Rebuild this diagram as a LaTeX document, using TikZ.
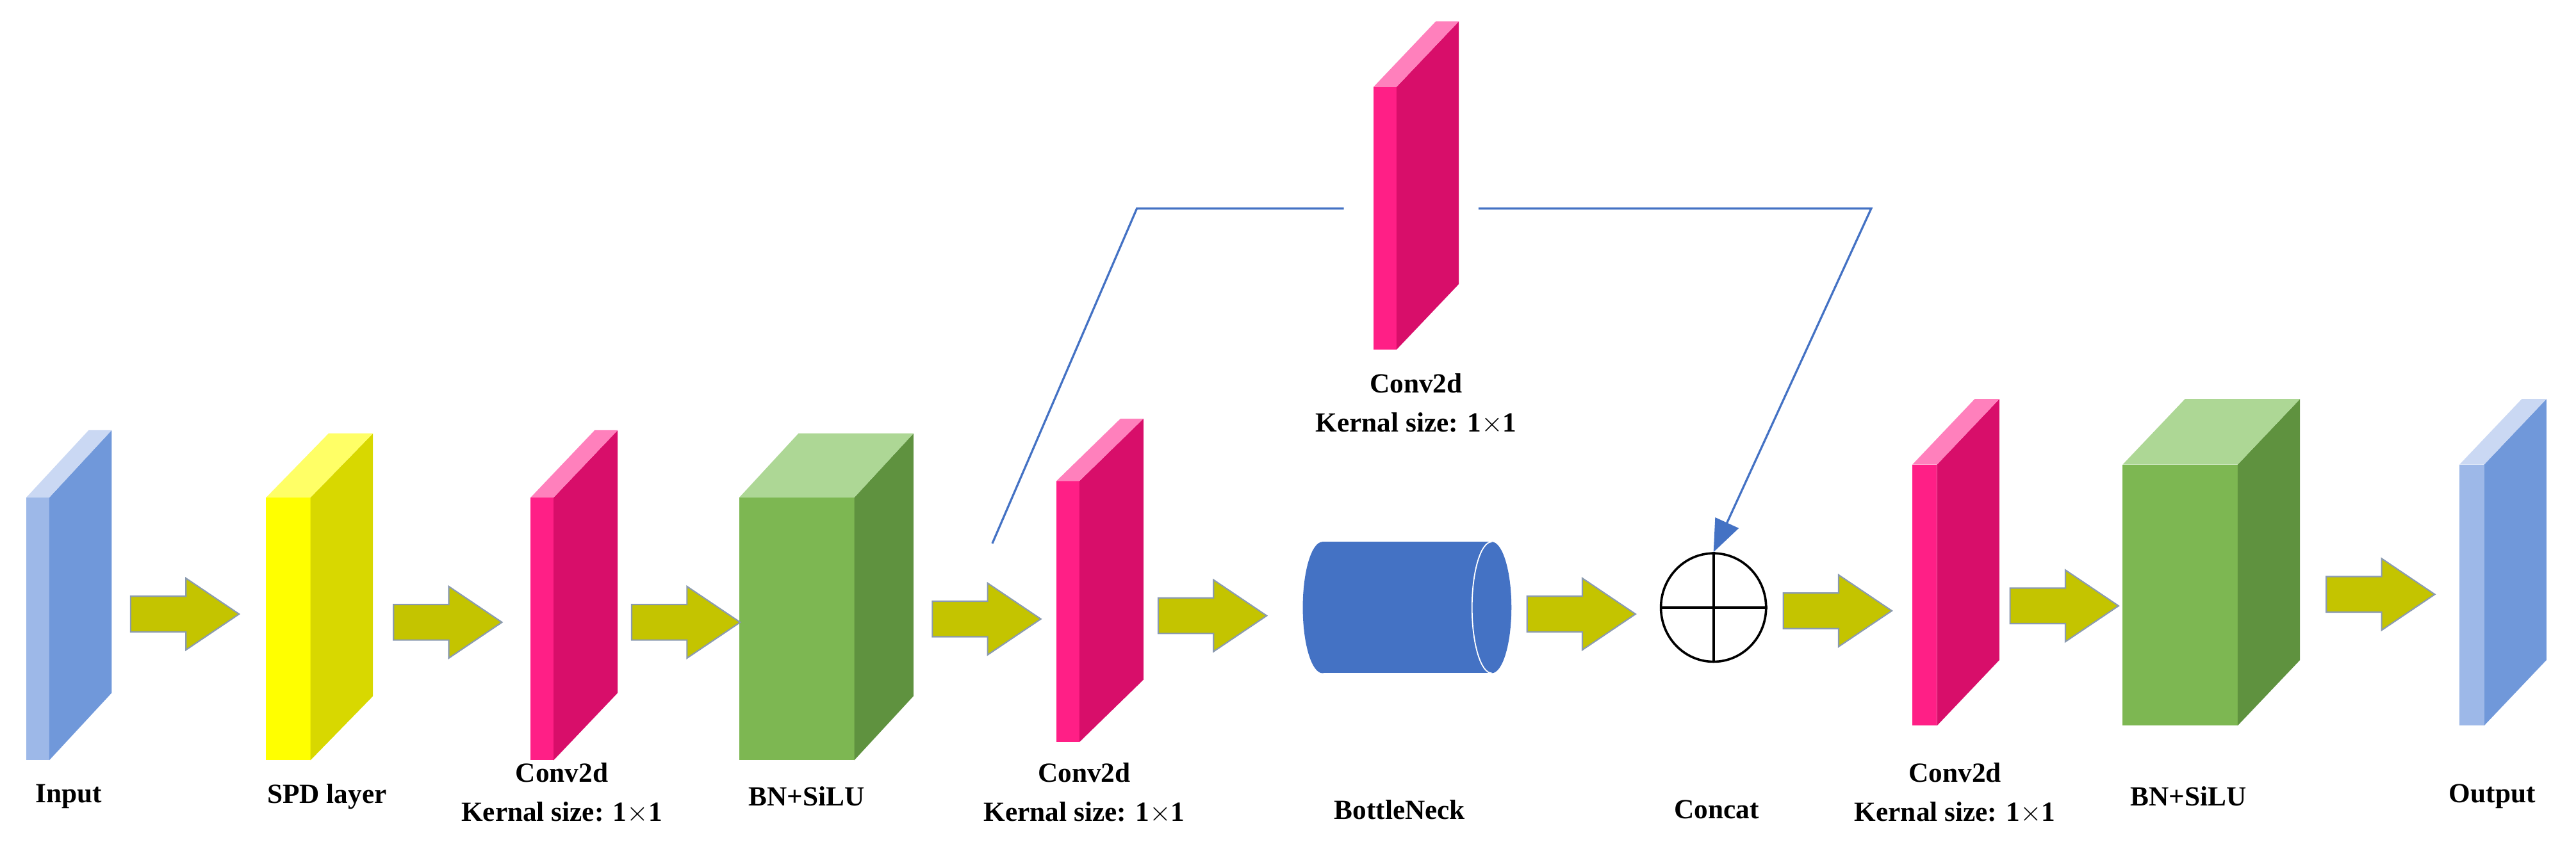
\documentclass[tikz,border=0pt]{standalone}
\usepackage{fontspec}
\setmainfont{Liberation Serif}
\usetikzlibrary{shapes.arrows,shapes.geometric,arrows.meta}

\definecolor{inF}{HTML}{9DB8E8}
\definecolor{inS}{HTML}{7098DA}
\definecolor{inT}{HTML}{CAD8F3}
\definecolor{spF}{HTML}{FFFF00}
\definecolor{spS}{HTML}{D8D800}
\definecolor{spT}{HTML}{FFFF66}
\definecolor{cvF}{HTML}{FF1F86}
\definecolor{cvS}{HTML}{D80E6A}
\definecolor{cvT}{HTML}{FF80BC}
\definecolor{bnF}{HTML}{7DB752}
\definecolor{bnS}{HTML}{5F923F}
\definecolor{bnT}{HTML}{ADD795}
\definecolor{arF}{HTML}{C4C400}
\definecolor{arD}{HTML}{8A9AB0}
\definecolor{cyl}{HTML}{4472C4}

% x, width, depth, front top, bottom, rise, front, side, top colours
\newcommand{\layer}[9]{%
\fill [#7] (#1,#4) rectangle ({#1+#2},#5);
\fill [#8] ({#1+#2},#4) -- ({#1+#2+#3},{#4-#6}) -- ({#1+#2+#3},{#5-#6}) -- ({#1+#2},#5) -- cycle;
\fill [#9] (#1,#4) -- ({#1+#3},{#4-#6}) -- ({#1+#2+#3},{#4-#6}) -- ({#1+#2},#4) -- cycle;
}

\tikzset{
  flow/.style={single arrow,draw=arD,fill=arF,line width=0.6pt,inner sep=0pt,
    inner ysep=0.26cm,single arrow head extend=0.275cm,single arrow tip angle=68,
    minimum height=1.65cm},
  lbl/.style={font=\fontsize{12}{17}\selectfont\bfseries,align=center},
  skip/.style={draw=cyl,line width=0.9pt}
}

\begin{document}
\begin{tikzpicture}[x=0.025cm,y=-0.025cm]

\useasboundingbox (0,0) rectangle (1568,517);

\layer{16}{14}{38}{303}{463}{41}{inF}{inS}{inT}
\layer{162}{27}{38}{303}{463}{39}{spF}{spS}{spT}
\layer{323}{14}{39}{303}{463}{41}{cvF}{cvS}{cvT}
\layer{450}{70}{36}{303}{463}{39}{bnF}{bnS}{bnT}
\layer{643}{14}{39}{293}{452}{38}{cvF}{cvS}{cvT}
\layer{1164}{15}{38}{283}{442}{40}{cvF}{cvS}{cvT}
\layer{1292}{70}{38}{283}{442}{40}{bnF}{bnS}{bnT}
\layer{1497}{15}{38}{283}{442}{40}{inF}{inS}{inT}
\layer{836}{14}{38}{53}{213}{40}{cvF}{cvS}{cvT}

% bottleneck
\fill [cyl] (805,330) rectangle (908,410);
\fill [cyl] (805,370) ellipse (12 and 40);
\fill [cyl] (908,370) ellipse (12 and 40);
\draw [white,line width=0.5pt] (908,410) arc (90:270:12 and 40);

% arrows
\node [flow] (a1) at (104.5,374) {};
\node [flow] (a2) at (264.5,379) {};
\node [flow] (a3) at (409.5,379) {};
\node [flow] (a4) at (592.5,377) {};
\node [flow] (a5) at (730,375) {};
\node [flow] (a6) at (954.5,374) {};
\node [flow] (a7) at (1110.5,372) {};
\node [flow] (a8) at (1248.5,369) {};
\node [flow] (a9) at (1441,362) {};

% concat
\node [ellipse,draw,line width=1pt,minimum width=1.6cm,minimum height=1.65cm] (cat) at (1043,370) {};
\draw [line width=1pt] (cat.north) -- (cat.south);
\draw [line width=1pt] (cat.west) -- (cat.east);

% skip path
\coordinate (s0) at (604,331);
\coordinate (s1) at (692,127);
\coordinate (s2) at (818,127);
\coordinate (s3) at (900,127);
\coordinate (s4) at (1139,127);
\draw [skip] (s0) -- (s1) -- (s2);
\draw [skip,-{Triangle[length=14pt,width=11pt]}] (s3) -- (s4) -- (cat.north);

% labels
\node [lbl] (tIn) at (42,485) {Input};
\node [lbl] (tSpd) at (199,485) {SPD layer};
\node [lbl] (tC1) at (342,483) {Conv2d\\Kernal size: 1$\times$1};
\node [lbl] (tBn1) at (491,485) {BN+SiLU};
\node [lbl] (tC2) at (660,483) {Conv2d\\Kernal size: 1$\times$1};
\node [lbl] (tBott) at (852,493) {BottleNeck};
\node [lbl] (tCat) at (1045,493) {Concat};
\node [lbl] (tC3) at (1190,483) {Conv2d\\Kernal size: 1$\times$1};
\node [lbl] (tBn2) at (1332,485) {BN+SiLU};
\node [lbl] (tOut) at (1517,485) {Output};
\node [lbl] (tC4) at (862,246) {Conv2d\\Kernal size: 1$\times$1};

\end{tikzpicture}
\end{document}
